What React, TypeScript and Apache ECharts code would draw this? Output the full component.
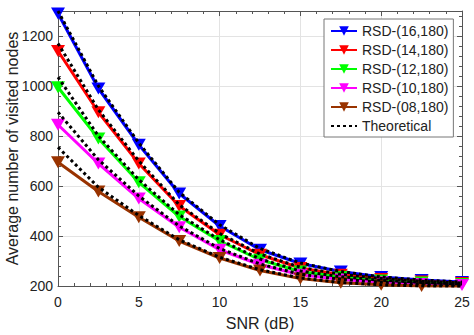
import React, { useEffect, useRef } from "react";
import * as echarts from "echarts";

const snr = [0, 2.5, 5, 7.5, 10, 12.5, 15, 17.5, 20, 22.5, 25];

const seriesNames = ["RSD-(16,180)", "RSD-(14,180)", "RSD-(12,180)", "RSD-(10,180)", "RSD-(08,180)"];
const seriesColors = ["#0000ff", "#ff0000", "#00ff00", "#ff00ff", "#993300"];

const rsd16 = [1290, 990, 765, 570, 440, 345, 290, 258, 236, 224, 216];
const rsd14 = [1140, 895, 690, 520, 405, 325, 272, 245, 228, 218, 212];
const rsd12 = [995, 790, 615, 478, 380, 305, 258, 236, 222, 214, 208];
const rsd10 = [845, 690, 550, 435, 345, 285, 245, 226, 215, 208, 204];
const rsd08 = [695, 578, 475, 380, 312, 262, 230, 213, 205, 200, 198];

const th16 = [1300, 1000, 772, 575, 445, 350, 292, 258, 236, 224, 216];
const th14 = [1170, 905, 700, 525, 410, 328, 275, 247, 230, 219, 212];
const th12 = [1035, 800, 625, 485, 385, 308, 260, 237, 223, 214, 208];
const th10 = [895, 705, 560, 440, 350, 288, 247, 227, 216, 208, 204];
const th08 = [755, 595, 482, 385, 315, 265, 232, 214, 205, 200, 198];

const simData = [rsd16, rsd14, rsd12, rsd10, rsd08];
const theoData = [th16, th14, th12, th10, th08];
const theoName = "Theoretical";

const FONT = "'Liberation Sans', Arial, sans-serif";
const AXIS_COLOR = "#555";
const TEXT_COLOR = "#222";

export default function App() {
  const ref = useRef<HTMLDivElement>(null);
  useEffect(() => {
    if (!ref.current) return;
    const chart = echarts.init(ref.current, null, { renderer: "svg" });
    const pair = (arr: number[]) => arr.map((v, i) => [snr[i], v]);

    const simSeries = simData.map((d, i) => ({
      type: "line",
      name: seriesNames[i],
      data: pair(d),
      symbol: "triangle",
      symbolRotate: 180,
      symbolSize: [14, 12],
      showAllSymbol: true,
      lineStyle: { color: seriesColors[i], width: 3 },
      itemStyle: { color: seriesColors[i] },
      z: 2,
    }));
    const theoSeries = theoData.map((d) => ({
      type: "line",
      name: theoName,
      data: pair(d),
      symbol: "none",
      lineStyle: { color: "#000", width: 3, type: [3, 3], cap: "butt" },
      itemStyle: { color: "#000" },
      z: 3,
    }));

    const minorTick = (n: number) => ({ show: true, splitNumber: n, length: 3, lineStyle: { color: AXIS_COLOR } });
    const baseX = {
      type: "value",
      min: 0,
      max: 25,
      interval: 5,
      axisLine: { show: true, onZero: false, lineStyle: { color: AXIS_COLOR, width: 1 } },
      axisTick: { show: true, inside: true, length: 5, lineStyle: { color: AXIS_COLOR } },
      minorTick: minorTick(5),
    };
    const baseY = {
      type: "value",
      min: 200,
      max: 1300,
      interval: 200,
      axisLine: { show: true, onZero: false, lineStyle: { color: AXIS_COLOR, width: 1 } },
      axisTick: { show: true, inside: true, length: 5, lineStyle: { color: AXIS_COLOR } },
      minorTick: minorTick(5),
    };

    chart.setOption({
      animation: false,
      backgroundColor: "#fff",
      textStyle: { fontFamily: FONT },
      grid: { left: 58, right: 12, top: 11, bottom: 49, containLabel: false, outerBoundsMode: "none" },
      legend: {
        orient: "vertical",
        left: 324,
        top: 19,
        padding: [5, 5, 4, 6],
        itemWidth: 26,
        itemHeight: 12,
        itemGap: 5,
        backgroundColor: "#fff",
        borderColor: "#777",
        borderWidth: 1,
        borderRadius: 0,
        textStyle: { fontSize: 14, color: TEXT_COLOR, fontFamily: FONT },
        data: [
          ...seriesNames,
          {
            name: theoName,
            itemStyle: { color: "rgba(0,0,0,0)", borderColor: "rgba(0,0,0,0)", borderWidth: 0 },
          },
        ],
      },
      xAxis: [
        {
          ...baseX,
          position: "bottom",
          name: "SNR (dB)",
          nameLocation: "middle",
          nameGap: 29,
          nameMoveOverlap: false,
          nameTextStyle: { fontSize: 16, color: TEXT_COLOR, fontFamily: FONT },
          axisLabel: { show: true, fontSize: 14, color: TEXT_COLOR, margin: 9, fontFamily: FONT },
          splitLine: { show: true, lineStyle: { color: "#e3e3e3", width: 1 } },
        },
        {
          ...baseX,
          position: "top",
          axisLabel: { show: false },
          splitLine: { show: false },
        },
      ],
      yAxis: [
        {
          ...baseY,
          position: "left",
          name: "Average number of visited nodes",
          nameLocation: "middle",
          nameGap: 38,
          nameMoveOverlap: false,
          nameTextStyle: { fontSize: 16, color: TEXT_COLOR, fontFamily: FONT },
          axisLabel: {
            show: true,
            fontSize: 14,
            color: TEXT_COLOR,
            margin: 5,
            showMaxLabel: false,
            fontFamily: FONT,
            formatter: (v: number) => String(v),
          },
          splitLine: { show: true, lineStyle: { color: "#e3e3e3", width: 1 } },
        },
        {
          ...baseY,
          position: "right",
          axisLabel: { show: false },
          splitLine: { show: false },
        },
      ],
      series: [...simSeries, ...theoSeries],
    });
    return () => chart.dispose();
  }, []);

  return (
    <div
      ref={ref}
      style={{ position: "absolute", left: 0, top: 0, width: 474, height: 335 }}
    />
  );
}
